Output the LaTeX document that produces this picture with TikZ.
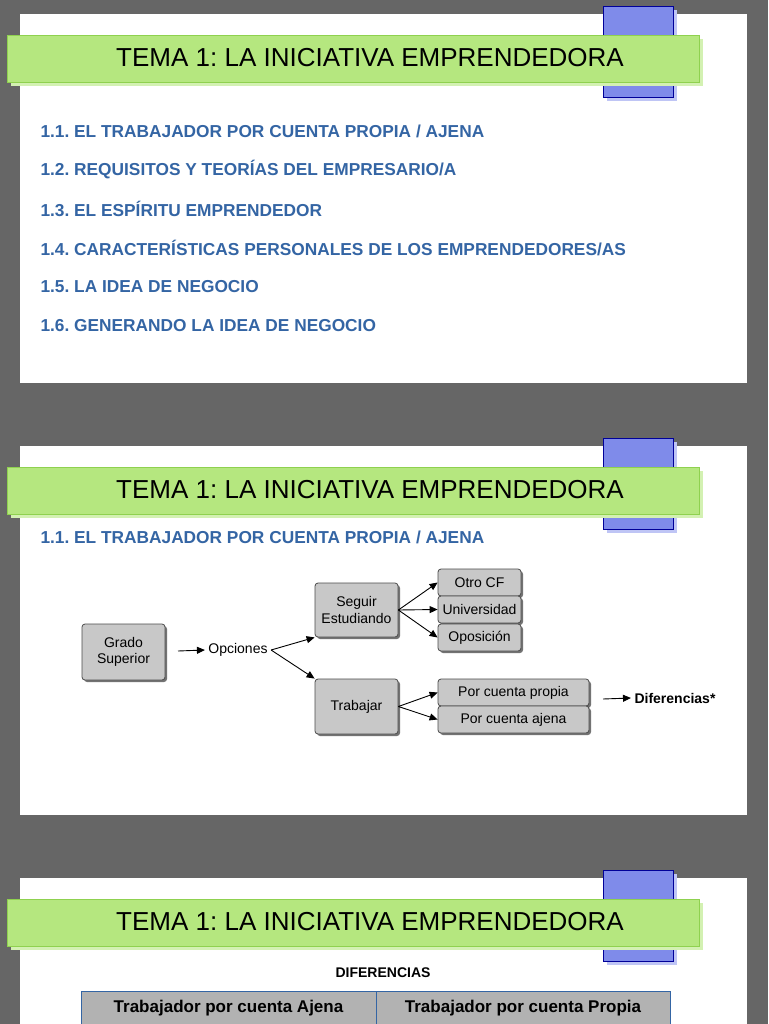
\documentclass[tikz,border=0pt]{standalone}
\usepackage{fontspec}
\setmainfont{Liberation Sans}
\usetikzlibrary{arrows.meta}
\frenchspacing
\definecolor{bg}{HTML}{666666}
\definecolor{ban}{HTML}{B5E77F}
\definecolor{banb}{HTML}{8FD14F}
\definecolor{blu}{HTML}{7F8BEA}
\definecolor{itm}{HTML}{3465A4}
\definecolor{box}{HTML}{C8C8C8}
\tikzset{
 slide/.style={fill=white},
 banner/.style={fill=ban,draw=banb,line width=0.8pt},
 bluebox/.style={fill=blu,draw=blue!60!black,line width=0.4pt},
 item/.style={anchor=west,text=itm,font=\fontsize{17.3}{19}\selectfont\bfseries},
 ttl/.style={font=\fontsize{26}{30}\selectfont},
 gbox/.style={draw=black!70,fill=box,rounded corners=3pt,line width=0.8pt,align=center,font=\fontsize{14}{16.5}\selectfont,inner sep=0pt,
   preaction={fill=black!55,rounded corners=3pt,transform canvas={xshift=2pt,yshift=-2pt}}},
 arr/.style={-{Triangle[length=8pt,width=7pt]},line width=0.9pt},
 lbl/.style={font=\fontsize{14}{16.5}\selectfont}
}
\begin{document}
\begin{tikzpicture}[x=1pt,y=-1pt]
\fill[bg] (0,0) rectangle (768,1024);
\useasboundingbox (0,0) rectangle (768,1024);
\foreach \y in {0,432,864}{
 \fill[slide] (20,14+\y) rectangle (747,383+\y);
 \fill[blu!50] (607,10+\y) rectangle (677,101+\y);
 \filldraw[bluebox] (603,6+\y) rectangle (673,97+\y);
 \fill[ban!60] (11,39+\y) rectangle (703,86+\y);
 \filldraw[banner] (7,35+\y) rectangle (699,82+\y);
}
\node[ttl] (t1) at (370,58) {TEMA 1: LA INICIATIVA EMPRENDEDORA};
\node[ttl] (t2) at (370,490) {TEMA 1: LA INICIATIVA EMPRENDEDORA};
\node[ttl] (t3) at (370,922) {TEMA 1: LA INICIATIVA EMPRENDEDORA};
\node[item] (i1) at (37,131) {1.1. EL TRABAJADOR POR CUENTA PROPIA / AJENA};
\node[item] (i2) at (37,170) {1.2. REQUISITOS Y TEORÍAS DEL EMPRESARIO/A};
\node[item] (i3) at (37,209) {1.3. EL ESPÍRITU EMPRENDEDOR};
\node[item] (i4) at (37,248) {1.4. CARACTERÍSTICAS PERSONALES DE LOS EMPRENDEDORES/AS};
\node[item] (i5) at (37,287) {1.5. LA IDEA DE NEGOCIO};
\node[item] (i6) at (37,326) {1.6. GENERANDO LA IDEA DE NEGOCIO};
\node[item] (j1) at (37,537) {1.1. EL TRABAJADOR POR CUENTA PROPIA / AJENA};
% diagram
\node[gbox,minimum width=83pt,minimum height=56pt] (gs) at (123.5,652) {Grado\\Superior};
\node[lbl] (op) at (238,650) {Opciones};
\coordinate (a0) at (178,651);
\draw[arr] (a0) -- (op.west);
\node[gbox,minimum width=83pt,minimum height=54pt] (se) at (356.5,610) {Seguir\\Estudiando};
\node[gbox,minimum width=83pt,minimum height=55pt] (tr) at (356.5,706.5) {Trabajar};
\draw[arr] (op.east) -- (se.south west);
\draw[arr] (op.east) -- (tr.north west);
\node[gbox,minimum width=83pt,minimum height=27pt] (o1) at (479.5,582.5) {Otro CF};
\node[gbox,minimum width=83pt,minimum height=27pt] (o2) at (479.5,609.5) {Universidad};
\node[gbox,minimum width=83pt,minimum height=27pt] (o3) at (479.5,637.5) {Oposición};
\node[gbox,minimum width=151pt,minimum height=27pt] (p1) at (513.5,692.5) {Por cuenta propia};
\node[gbox,minimum width=151pt,minimum height=27pt] (p2) at (513.5,719.5) {Por cuenta ajena};
\draw[arr] (se.east) -- (o1.west);
\draw[arr] (se.east) -- (o2.west);
\draw[arr] (se.east) -- (o3.west);
\draw[arr] (tr.east) -- (p1.west);
\draw[arr] (tr.east) -- (p2.west);
\node[lbl,font=\fontsize{14}{16.5}\selectfont\bfseries,anchor=west] (df) at (631,698) {Diferencias*};
\coordinate (a1) at (603,699);
\draw[arr] (a1) -- (df.west);
% slide 3
\node[font=\fontsize{14}{16.5}\selectfont\bfseries] (dd) at (383,973) {DIFERENCIAS};
\filldraw[fill=black!30,draw=itm,line width=0.6pt] (81,991) rectangle (670,1030);
\draw[itm,line width=0.6pt] (376,991) -- (376,1030);
\node[font=\fontsize{17}{19}\selectfont\bfseries] (c1) at (228.5,1008) {Trabajador por cuenta Ajena};
\node[font=\fontsize{17}{19}\selectfont\bfseries] (c2) at (523,1008) {Trabajador por cuenta Propia};
\end{tikzpicture}
\end{document}
